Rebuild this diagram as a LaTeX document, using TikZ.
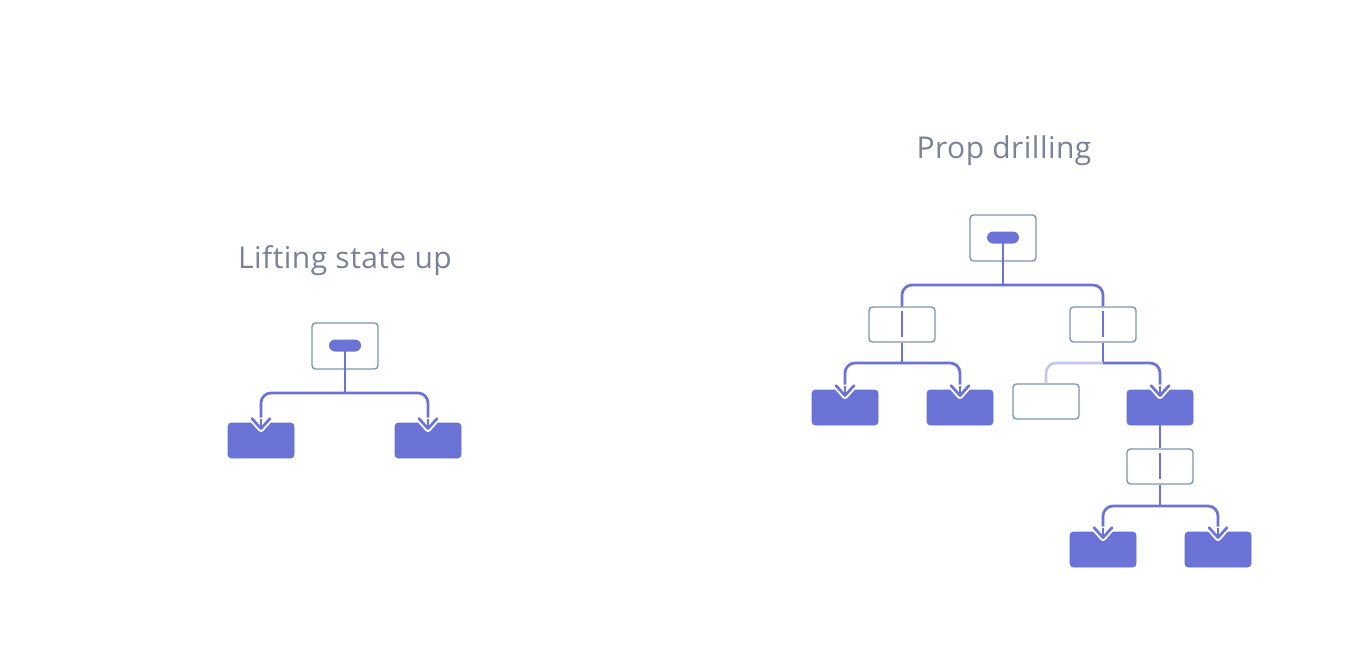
\documentclass[tikz,border=0pt]{standalone}
\usepackage{fontspec}
\setmainfont{Open Sans}
\newfontfamily\ttlfont[LetterSpace=1.5]{Open Sans}
\usetikzlibrary{calc}
\definecolor{purp}{HTML}{6B74D6}
\definecolor{purpd}{HTML}{6470CF}
\definecolor{faint}{HTML}{C4C7F0}
\definecolor{frame}{HTML}{7F96AE}
\definecolor{ttl}{HTML}{7A8299}
\tikzset{
  outbox/.style={draw=frame, line width=1.4pt, fill=white, rounded corners=3.5pt, inner sep=0pt},
  rootbox/.style={outbox, minimum width=66pt, minimum height=46pt},
  midbox/.style={outbox, minimum width=66pt, minimum height=35pt},
  leafbox/.style={draw=purpd, line width=0.8pt, fill=purp, rounded corners=3.5pt, inner sep=0pt, minimum width=66pt, minimum height=35pt},
  pillbox/.style={fill=purp, rounded corners=6pt, inner sep=0pt, minimum width=32pt, minimum height=12pt},
  wire/.style={draw=purp, line width=2.7pt, rounded corners=10pt},
  faintwire/.style={draw=faint, line width=2.7pt, rounded corners=10pt},
  ttlnode/.style={text=ttl, font=\ttlfont\fontsize{30}{34}\selectfont, anchor=base, inner sep=0pt},
  chev/.pic={
    \draw[white, line width=6.5pt, line cap=round, line join=round] (-9,-10) -- (0,0) -- (9,-10);
    \draw[white, line width=6.5pt, line cap=round] (0,0) -- (0,-8);
    \draw[purp, line width=2.7pt, line cap=round, line join=round] (-9,-10) -- (0,0) -- (9,-10);
    \draw[purp, line width=2.7pt] (0,0) -- (0,-10);
  }
}
\begin{document}
\begin{tikzpicture}[x=1pt, y=-1pt]
\useasboundingbox (0,0) rectangle (1346,650);
\fill[white] (0,0) rectangle (1346,650);

% ---------- Lifting state up ----------
\node[ttlnode] (t1) at (345,268) {Lifting state up};
\node[rootbox] (rootL) at (345,346) {};
\node[pillbox] (pillL) at (345,345.5) {};
\node[leafbox] (l1) at (261,440.5) {};
\node[leafbox] (l2) at (428,440.5) {};
\coordinate (jL) at (345,393);
\coordinate (tl1) at ($(l1.north)+(0,6)$);
\coordinate (tl2) at ($(l2.north)+(0,6)$);
\draw[wire] (pillL.center) -- (jL);
\draw[wire] (jL) -| (tl1);
\draw[wire] (jL) -| (tl2);
\pic at (tl1) {chev};
\pic at (tl2) {chev};

% ---------- Prop drilling ----------
\node[ttlnode] (t2) at (1004,158) {Prop drilling};
\node[rootbox] (rootR) at (1003,238) {};
\node[pillbox] (pillR) at (1003,237.5) {};
\node[midbox] (m1) at (902,324.5) {};
\node[midbox] (m2) at (1103,324.5) {};
\node[leafbox] (a1) at (845,407.5) {};
\node[leafbox] (a2) at (960,407.5) {};
\node[midbox] (g) at (1046,401.5) {};
\node[leafbox] (a3) at (1160,407.5) {};
\node[midbox] (m3) at (1160,466.5) {};
\node[leafbox] (b1) at (1103,549.5) {};
\node[leafbox] (b2) at (1218,549.5) {};

\coordinate (jR) at (1003,285);
\coordinate (j1) at (902,363);
\coordinate (j2) at (1103,363);
\coordinate (j3) at (1160,506);
\coordinate (ta1) at ($(a1.north)+(0,6)$);
\coordinate (ta2) at ($(a2.north)+(0,6)$);
\coordinate (ta3) at ($(a3.north)+(0,6)$);
\coordinate (tb1) at ($(b1.north)+(0,6)$);
\coordinate (tb2) at ($(b2.north)+(0,6)$);

\draw[wire] (pillR.center) -- (jR);
\draw[wire] (jR) -| (m1.north);
\draw[wire] (jR) -| (m2.north);
\draw[wire] ($(m1.north)+(0,5)$) -- ($(m1.south)+(0,-6)$);
\draw[wire] ($(m2.north)+(0,5)$) -- ($(m2.south)+(0,-6)$);
\draw[wire] (m1.south) -- (j1);
\draw[wire] (m2.south) -- (j2);
\draw[wire] (j1) -| (ta1);
\draw[wire] (j1) -| (ta2);
\draw[faintwire] (j2) -| (g.north);
\draw[wire] (j2) -| (ta3);
\pic at (ta1) {chev};
\pic at (ta2) {chev};
\pic at (ta3) {chev};
\draw[wire] (a3.south) -- (m3.north);
\draw[wire] ($(m3.north)+(0,5)$) -- ($(m3.south)+(0,-6)$);
\draw[wire] (m3.south) -- (j3);
\draw[wire] (j3) -| (tb1);
\draw[wire] (j3) -| (tb2);
\pic at (tb1) {chev};
\pic at (tb2) {chev};
\end{tikzpicture}
\end{document}
